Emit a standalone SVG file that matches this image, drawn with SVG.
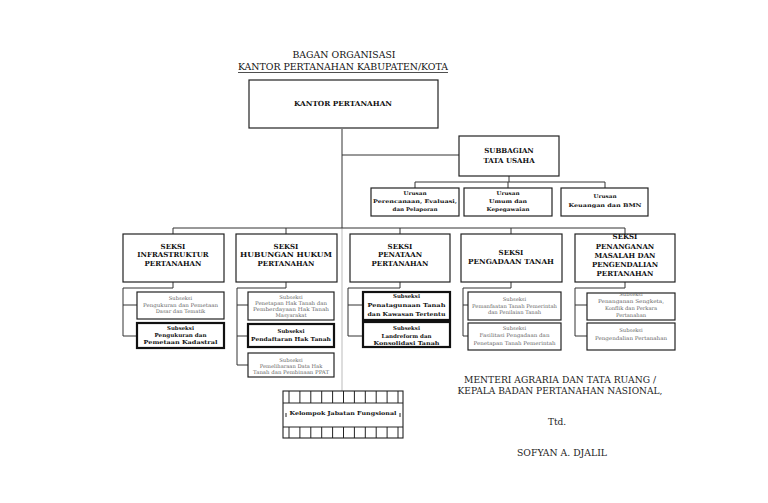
<svg xmlns="http://www.w3.org/2000/svg" width="768" height="503" viewBox="0 0 768 503">
<style>
.bx{fill:#fff;stroke:#222;stroke-width:1.2}
.tk{fill:#fff;stroke:#111;stroke-width:2.2}
.ln{fill:none;stroke:#333;stroke-width:1}
.t{font-family:"DejaVu Serif","Liberation Serif",serif;text-anchor:middle;fill:#111}
.h{font-size:7px;font-weight:bold}
.u{font-size:5px;font-weight:bold}
.g{font-size:5.2px;fill:#666}
.k{font-size:5.4px;font-weight:bold}
.s{font-size:9px;fill:#222}
</style>
<rect width="768" height="503" fill="#fff"/>
<g id="title">
<text class="t" x="344" y="58" font-size="8.5" textLength="103" lengthAdjust="spacingAndGlyphs">BAGAN ORGANISASI</text>
<text class="t" x="343" y="70" font-size="8.5" textLength="210" lengthAdjust="spacingAndGlyphs">KANTOR PERTANAHAN KABUPATEN/KOTA</text>
<line x1="238" y1="72.5" x2="448" y2="72.5" stroke="#222" stroke-width="0.8"/>
</g>
<g id="connectors">
<line x1="342" y1="228" x2="342" y2="391" stroke="#bbb" stroke-width="1"/>
<path class="ln" d="M342 129V228M342 155H459M509 176V182M415 182H605M415 182V188M508 182V188M605 182V188M173 228H625M173 228V234M286 228V234M400 228V234M511 228V234M625 228V234"/>
<path class="ln" d="M173 282V288H123V336M123 305H137M123 336H137"/>
<path class="ln" d="M286 282V288H237V365M237 305H248M237 336H248M237 365H248"/>
<path class="ln" d="M400 282V288H348V336M348 305H363M348 336H363"/>
<path class="ln" d="M511 282V288H463V336M463 305H468M463 336H468"/>
<path class="ln" d="M625 282V288H575V336M575 305H587M575 336H587"/>
</g>
<g id="kantor">
<rect class="bx" x="249" y="80" width="189" height="48"/>
<text class="t h" x="343" y="106" textLength="98" lengthAdjust="spacingAndGlyphs">KANTOR PERTANAHAN</text>
</g>
<g id="subbagian">
<rect class="bx" x="459" y="136" width="100" height="40"/>
<text class="t h" x="509" y="153">SUBBAGIAN</text>
<text class="t h" x="509" y="163">TATA USAHA</text>
</g>
<g id="urusan1">
<rect class="bx" x="371" y="188" width="88" height="28"/>
<text class="t u" x="415" y="195" textLength="23" lengthAdjust="spacingAndGlyphs">Urusan</text>
<text class="t u" x="415" y="203" textLength="84" lengthAdjust="spacingAndGlyphs">Perencanaan, Evaluasi,</text>
<text class="t u" x="415" y="211" textLength="45" lengthAdjust="spacingAndGlyphs">dan Pelaporan</text>
</g>
<g id="urusan2">
<rect class="bx" x="464" y="188" width="88" height="28"/>
<text class="t u" x="508" y="195" textLength="23" lengthAdjust="spacingAndGlyphs">Urusan</text>
<text class="t u" x="508" y="203" textLength="38" lengthAdjust="spacingAndGlyphs">Umum dan</text>
<text class="t u" x="508" y="211" textLength="43" lengthAdjust="spacingAndGlyphs">Kepegawaian</text>
</g>
<g id="urusan3">
<rect class="bx" x="561" y="188" width="87" height="28"/>
<text class="t u" x="605" y="198" textLength="23" lengthAdjust="spacingAndGlyphs">Urusan</text>
<text class="t u" x="605" y="207" textLength="73" lengthAdjust="spacingAndGlyphs">Keuangan dan BMN</text>
</g>
<g id="seksi1">
<rect class="bx" x="123" y="234" width="101" height="48"/>
<text class="t h" x="173" y="249">SEKSI</text>
<text class="t h" x="173" y="257">INFRASTRUKTUR</text>
<text class="t h" x="173" y="266">PERTANAHAN</text>
</g>
<g id="seksi2">
<rect class="bx" x="236" y="234" width="101" height="48"/>
<text class="t h" x="286" y="249">SEKSI</text>
<text class="t h" x="286" y="257" textLength="92" lengthAdjust="spacingAndGlyphs">HUBUNGAN HUKUM</text>
<text class="t h" x="286" y="266">PERTANAHAN</text>
</g>
<g id="seksi3">
<rect class="bx" x="350" y="234" width="100" height="48"/>
<text class="t h" x="400" y="249">SEKSI</text>
<text class="t h" x="400" y="257">PENATAAN</text>
<text class="t h" x="400" y="266">PERTANAHAN</text>
</g>
<g id="seksi4">
<rect class="bx" x="461" y="234" width="101" height="48"/>
<text class="t h" x="511" y="255">SEKSI</text>
<text class="t h" x="511" y="264" textLength="86" lengthAdjust="spacingAndGlyphs">PENGADAAN TANAH</text>
</g>
<g id="seksi5">
<rect class="bx" x="575" y="234" width="100" height="48"/>
<text class="t h" x="625" y="239">SEKSI</text>
<text class="t h" x="625" y="249">PENANGANAN</text>
<text class="t h" x="625" y="258">MASALAH DAN</text>
<text class="t h" x="625" y="267">PENGENDALIAN</text>
<text class="t h" x="625" y="276">PERTANAHAN</text>
</g>
<g id="sub1a">
<rect class="bx" x="137" y="292" width="87" height="27"/>
<text class="t g" x="180.5" y="300">Subseksi</text>
<text class="t g" x="180.5" y="307" textLength="75" lengthAdjust="spacingAndGlyphs">Pengukuran dan Pemetaan</text>
<text class="t g" x="180.5" y="313">Dasar dan Tematik</text>
</g>
<g id="sub1b">
<rect class="tk" x="137" y="323" width="87" height="25"/>
<text class="t k" x="180.5" y="330">Subseksi</text>
<text class="t k" x="180.5" y="337" textLength="52" lengthAdjust="spacingAndGlyphs">Pengukuran dan</text>
<text class="t k" x="180.5" y="344" textLength="74" lengthAdjust="spacingAndGlyphs">Pemetaan Kadastral</text>
</g>
<g id="sub2a">
<rect class="bx" x="248" y="292" width="86" height="28"/>
<text class="t g" x="291" y="299">Subseksi</text>
<text class="t g" x="291" y="305" textLength="72" lengthAdjust="spacingAndGlyphs">Penetapan Hak Tanah dan</text>
<text class="t g" x="291" y="311" textLength="76" lengthAdjust="spacingAndGlyphs">Pemberdayaan Hak Tanah</text>
<text class="t g" x="291" y="317">Masyarakat</text>
</g>
<g id="sub2b">
<rect class="tk" x="248" y="324" width="86" height="23"/>
<text class="t k" x="291" y="333">Subseksi</text>
<text class="t k" x="291" y="341" textLength="80" lengthAdjust="spacingAndGlyphs">Pendaftaran Hak Tanah</text>
</g>
<g id="sub2c">
<rect class="bx" x="248" y="353" width="86" height="24"/>
<text class="t g" x="291" y="362">Subseksi</text>
<text class="t g" x="291" y="368">Pemeliharaan Data Hak</text>
<text class="t g" x="291" y="374" textLength="76" lengthAdjust="spacingAndGlyphs">Tanah dan Pembinaan PPAT</text>
</g>
<g id="sub3a">
<rect class="tk" x="363" y="292" width="87" height="28"/>
<text class="t k" x="406.5" y="298">Subseksi</text>
<text class="t k" x="406.5" y="307" textLength="78" lengthAdjust="spacingAndGlyphs">Penatagunaan Tanah</text>
<text class="t k" x="406.5" y="316" textLength="78" lengthAdjust="spacingAndGlyphs">dan Kawasan Tertentu</text>
</g>
<g id="sub3b">
<rect class="tk" x="363" y="322" width="87" height="25"/>
<text class="t k" x="406.5" y="330">Subseksi</text>
<text class="t k" x="406.5" y="338" textLength="50" lengthAdjust="spacingAndGlyphs">Landreform dan</text>
<text class="t k" x="406.5" y="345" textLength="66" lengthAdjust="spacingAndGlyphs">Konsolidasi Tanah</text>
</g>
<g id="sub4a">
<rect class="bx" x="468" y="292" width="93" height="28"/>
<text class="t g" x="514.5" y="301">Subseksi</text>
<text class="t g" x="514.5" y="308" textLength="85" lengthAdjust="spacingAndGlyphs">Pemanfaatan Tanah Pemerintah</text>
<text class="t g" x="514.5" y="314">dan Penilaian Tanah</text>
</g>
<g id="sub4b">
<rect class="bx" x="468" y="323" width="93" height="27"/>
<text class="t g" x="514.5" y="330">Subseksi</text>
<text class="t g" x="514.5" y="337" textLength="70" lengthAdjust="spacingAndGlyphs">Fasilitasi Pengadaan dan</text>
<text class="t g" x="514.5" y="345" textLength="82" lengthAdjust="spacingAndGlyphs">Penetapan Tanah Pemerintah</text>
</g>
<g id="sub5a">
<rect class="bx" x="587" y="293" width="88" height="27"/>
<text class="t g" x="631" y="296">Subseksi</text>
<text class="t g" x="631" y="303" textLength="66" lengthAdjust="spacingAndGlyphs">Penanganan Sengketa,</text>
<text class="t g" x="631" y="310">Konflik dan Perkara</text>
<text class="t g" x="631" y="317">Pertanahan</text>
</g>
<g id="sub5b">
<rect class="bx" x="587" y="323" width="88" height="27"/>
<text class="t g" x="631" y="332">Subseksi</text>
<text class="t g" x="631" y="340" textLength="72" lengthAdjust="spacingAndGlyphs">Pengendalian Pertanahan</text>
</g>
<g id="kelompok">
<rect x="283" y="391" width="120" height="47" fill="#fff" stroke="#222" stroke-width="1.1"/>
<path fill="none" stroke="#222" stroke-width="1" d="M283 403H403M283 427H403M289 391V403M299.9 391V403M310.8 391V403M321.7 391V403M332.6 391V403M343.5 391V403M354.4 391V403M365.3 391V403M376.2 391V403M387.1 391V403M398 391V403M289 427V438M299.9 427V438M310.8 427V438M321.7 427V438M332.6 427V438M343.5 427V438M354.4 427V438M365.3 427V438M376.2 427V438M387.1 427V438M398 427V438M286 413V417M400 413V417"/>
<text class="t k" x="343" y="415" textLength="107" lengthAdjust="spacingAndGlyphs">Kelompok Jabatan Fungsional</text>
</g>
<g id="signature">
<text class="t s" x="560" y="383" textLength="192" lengthAdjust="spacingAndGlyphs">MENTERI AGRARIA DAN TATA RUANG /</text>
<text class="t s" x="560" y="394" textLength="205" lengthAdjust="spacingAndGlyphs">KEPALA BADAN PERTANAHAN NASIONAL,</text>
<text class="t s" x="557" y="425">Ttd.</text>
<text class="t s" x="562" y="456" textLength="90" lengthAdjust="spacingAndGlyphs">SOFYAN A. DJALIL</text>
</g>
</svg>
